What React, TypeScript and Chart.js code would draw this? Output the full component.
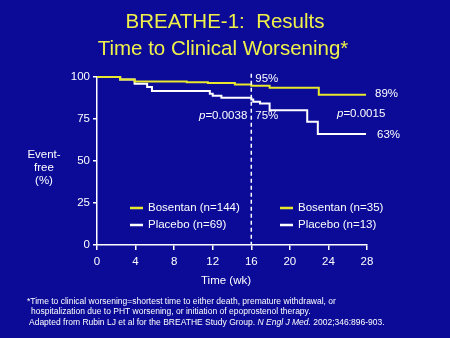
import React, { useEffect, useRef } from "react";
import { Chart, registerables } from "chart.js";

Chart.register(...registerables);

const xTicks = [0, 4, 8, 12, 16, 20, 24, 28];
const yTicks = [0, 25, 50, 75, 100];

const bosentanWeeks = [0, 2.4, 3.9, 9.3, 11.5, 14.3, 16.0, 17.9, 23.0, 27.9];
const bosentanPct = [100, 98.5, 97.3, 96.9, 96.4, 95.6, 94.8, 93.6, 89.5, 89.5];

const placeboWeeks = [0, 2.4, 3.9, 5.2, 5.7, 11.7, 12.0, 12.9, 16.0, 16.2, 16.9, 17.9, 21.8, 22.9, 27.9];
const placeboPct = [100, 98.5, 96.0, 94.0, 91.6, 90.1, 88.9, 87.7, 86.6, 85.2, 84.2, 80.2, 73.3, 66.0, 66.0];

const cutoffWeek = 16;

const titleLines = ["BREATHE-1:  Results", "Time to Clinical Worsening*"];
const legendLeft = ["Bosentan (n=144)", "Placebo (n=69)"];
const legendRight = ["Bosentan (n=35)", "Placebo (n=13)"];

const BG = "#0b0b98";
const YELLOW = "#e8e82c";
const TITLE_YELLOW = "#f0f04a";
const WHITE = "#ffffff";
const FONT = "'Liberation Sans', Arial, sans-serif";

const toPoints = (xs: number[], ys: number[]) => xs.map((x, i) => ({ x, y: ys[i] }));

const decorPlugin = {
  id: "decor",
  beforeDraw(chart: any) {
    const { ctx, width, height } = chart;
    ctx.save();
    ctx.fillStyle = BG;
    ctx.fillRect(0, 0, width, height);
    ctx.restore();
  },
  afterDatasetsDraw(chart: any) {
    const { ctx, scales } = chart;
    const x = scales.x.getPixelForValue(cutoffWeek);
    ctx.save();
    ctx.strokeStyle = WHITE;
    ctx.lineWidth = 1.5;
    ctx.setLineDash([4, 3]);
    ctx.beginPath();
    ctx.moveTo(x, scales.y.getPixelForValue(102));
    ctx.lineTo(x, scales.y.getPixelForValue(0));
    ctx.stroke();
    ctx.restore();
  },
  afterDraw(chart: any) {
    const { ctx, scales } = chart;
    const xs = scales.x;
    ctx.save();
    ctx.textBaseline = "middle";

    // Title
    ctx.fillStyle = TITLE_YELLOW;
    ctx.textAlign = "center";
    ctx.font = `20.5px ${FONT}`;
    ctx.fillText(titleLines[0], 225, 22);
    ctx.fillText(titleLines[1], 223, 49);

    // Y axis title
    ctx.fillStyle = WHITE;
    ctx.font = `11.5px ${FONT}`;
    ctx.fillText("Event-", 44, 155);
    ctx.fillText("free", 44, 168);
    ctx.fillText("(%)", 44, 181);

    // X axis title
    ctx.fillText("Time (wk)", 226, 281);

    // annotations
    ctx.font = `11.5px ${FONT}`;
    ctx.textAlign = "left";
    const x16 = xs.getPixelForValue(cutoffWeek);
    ctx.fillText("95%", x16 + 4, 79);
    ctx.fillText("75%", x16 + 4, 116);
    ctx.fillText("89%", 375, 94);
    ctx.fillText("63%", 377, 135);

    const drawP = (txt: string, xLeft: number, y: number, alignRight: boolean) => {
      ctx.font = `italic 11.5px ${FONT}`;
      const pw = ctx.measureText("p").width;
      ctx.font = `11.5px ${FONT}`;
      const rw = ctx.measureText(txt).width;
      const start = alignRight ? xLeft - pw - rw : xLeft;
      ctx.textAlign = "left";
      ctx.font = `italic 11.5px ${FONT}`;
      ctx.fillText("p", start, y);
      ctx.font = `11.5px ${FONT}`;
      ctx.fillText(txt, start + pw, y);
    };
    drawP("=0.0038", x16 - 4, 116, true);
    drawP("=0.0015", 337, 114, false);

    // legends
    const drawLegend = (labels: string[], lx: number) => {
      const rows = [208, 225];
      const colors = [YELLOW, WHITE];
      rows.forEach((ry, i) => {
        ctx.strokeStyle = colors[i];
        ctx.lineWidth = 2.5;
        ctx.setLineDash([]);
        ctx.beginPath();
        ctx.moveTo(lx, ry);
        ctx.lineTo(lx + 13, ry);
        ctx.stroke();
        ctx.fillStyle = WHITE;
        ctx.font = `11.5px ${FONT}`;
        ctx.textAlign = "left";
        ctx.fillText(labels[i], lx + 18, ry);
      });
    };
    drawLegend(legendLeft, 130);
    drawLegend(legendRight, 280);

    // footnote
    const fs = 8.5;
    ctx.fillStyle = WHITE;
    ctx.font = `${fs}px ${FONT}`;
    ctx.textAlign = "left";
    ctx.fillText("*Time to clinical worsening=shortest time to either death, premature withdrawal, or", 27, 302);
    ctx.fillText("hospitalization due to PHT worsening, or initiation of epoprostenol therapy.", 31, 312);
    const p1 = "Adapted from Rubin LJ et al for the BREATHE Study Group. ";
    const p2 = "N Engl J Med.";
    const p3 = " 2002;346:896-903.";
    let cx = 29;
    ctx.fillText(p1, cx, 323);
    cx += ctx.measureText(p1).width;
    ctx.font = `italic ${fs}px ${FONT}`;
    ctx.fillText(p2, cx, 323);
    cx += ctx.measureText(p2).width;
    ctx.font = `${fs}px ${FONT}`;
    ctx.fillText(p3, cx, 323);

    ctx.restore();
  },
};

export default function App() {
  const ref = useRef<HTMLCanvasElement | null>(null);
  useEffect(() => {
    if (!ref.current) return;
    const chart = new Chart(ref.current, {
      type: "line",
      data: {
        datasets: [
          {
            label: "Bosentan",
            data: toPoints(bosentanWeeks, bosentanPct),
            borderColor: YELLOW,
            borderWidth: 2,
            pointRadius: 0,
            stepped: "before",
            fill: false,
            clip: false as any,
          },
          {
            label: "Placebo",
            data: toPoints(placeboWeeks, placeboPct),
            borderColor: WHITE,
            borderWidth: 2,
            pointRadius: 0,
            stepped: "before",
            fill: false,
            clip: false as any,
          },
        ],
      },
      options: {
        animation: false,
        responsive: false,
        events: [],
        layout: { padding: { left: 57, right: 83, top: 77, bottom: 48 } },
        plugins: { legend: { display: false }, tooltip: { enabled: false } },
        scales: {
          x: {
            type: "linear",
            min: 0,
            max: 28,
            afterBuildTicks: (s: any) => {
              s.ticks = xTicks.map((v) => ({ value: v }));
            },
            afterFit: (s: any) => {
              s.height = 45;
            },
            ticks: {
              color: WHITE,
              font: { family: FONT, size: 11.5 },
              padding: 5,
              maxRotation: 0,
            },
            grid: { drawOnChartArea: false, drawTicks: true, tickLength: 5, color: WHITE, lineWidth: 1.5 },
            border: { color: WHITE, width: 1.5 },
          },
          y: {
            type: "linear",
            min: 0,
            max: 100,
            afterBuildTicks: (s: any) => {
              s.ticks = yTicks.map((v) => ({ value: v }));
            },
            afterFit: (s: any) => {
              s.width = 40;
            },
            ticks: {
              color: WHITE,
              font: { family: FONT, size: 11.5 },
              padding: 3,
            },
            grid: { drawOnChartArea: false, drawTicks: true, tickLength: 4, color: WHITE, lineWidth: 1.5 },
            border: { color: WHITE, width: 1.5 },
          },
        },
      },
      plugins: [decorPlugin],
    });
    return () => chart.destroy();
  }, []);
  return (
    <div style={{ position: "fixed", left: 0, top: 0, width: 450, height: 338 }}>
      <canvas ref={ref} width={450} height={338} style={{ display: "block" }} />
    </div>
  );
}
